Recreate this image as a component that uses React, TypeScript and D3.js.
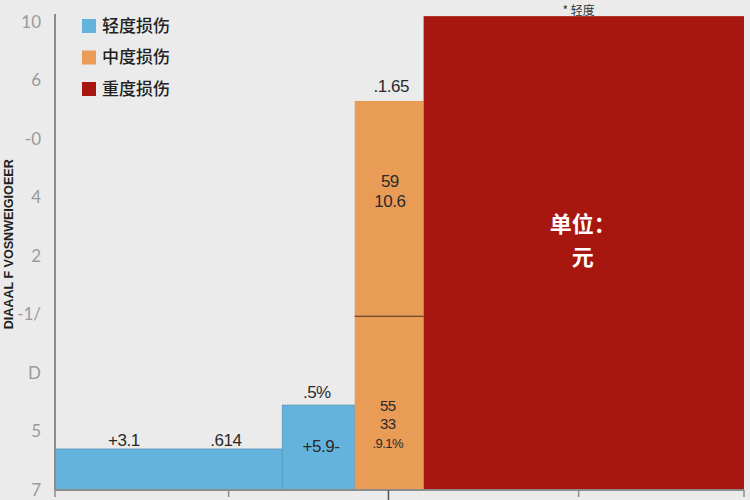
import React from 'react';
import * as d3 from 'd3';

// chart data
const legendNames = ['轻度损伤', '中度损伤', '重度损伤'];
const legendColors = ['#63b3dc', '#e89c55', '#a71710'];

const barSeries = [0, 0, 1, 2]; // index into legend
const barWidths = [33, 10.5, 10, 46.5];
const barValues = [0.7, 1.45, 6.65, 8.1];
const orangeSplit = 2.97;

const yTickValues = [0, 1, 2, 3, 4, 5, 6, 7, 8];
const yTickLabels = ['7', '5', 'D', '-1/', '2', '4', '-0', '6', '10'];
const xTickValues = [0, 25.2, 48.4, 76, 100];

const yTitle = 'DIAAAL F VOSNWEIGIOEER';

// value labels
const labelText = ['+3.1', '.614', '.5%', '+5.9-', '.1.65', '59', '10.6'];
const labelX = [10, 24.8, 38, 38.6, 48.8, 48.6, 48.6];
const labelY = [0.75, 0.75, 1.57, 0.65, 6.8, 5.18, 4.84];
const smallText = ['55', '33', '.9.1%'];
const smallY = [1.35, 1.04, 0.72];
const smallX = 48.3;

const redTitle = ['单位：', '元'];
const redTitleY = [4.41, 3.85];
const topText = '* 轻度';

const W = 750;
const H = 500;

const App: React.FC = () => {
  const x = d3.scaleLinear().domain([0, 100]).range([55, 744]);
  const y = d3.scaleLinear().domain([0, 8]).range([490, 22]);

  const starts = d3.cumsum([0, ...barWidths]);
  const numFont = '"Liberation Sans", Arial, sans-serif';
  const cjkFont = "'Noto Sans CJK SC', sans-serif";

  React.useEffect(() => {
    document.body.style.margin = '0';
  }, []);

  return (
    <svg width={W} height={H} style={{ display: 'block', background: '#ebebeb' }}>
      {/* bars */}
      {barValues.map((v, i) => {
        const x0 = x(starts[i]);
        const x1 = x(starts[i] + barWidths[i]);
        const s = barSeries[i];
        return (
          <rect
            key={i}
            x={x0}
            y={y(v)}
            width={x1 - x0}
            height={y(0) - y(v)}
            fill={legendColors[s]}
            stroke={s === 0 ? '#5c9ec4' : 'none'}
            strokeWidth={s === 0 ? 1 : 0}
          />
        );
      })}
      {/* orange split line */}
      <line
        x1={x(starts[2])}
        x2={x(starts[3])}
        y1={y(orangeSplit)}
        y2={y(orangeSplit)}
        stroke="#4a3020"
        strokeWidth={1}
      />

      {/* y axis */}
      <line x1={x(0)} x2={x(0)} y1={14} y2={y(0)} stroke="#8c8c8c" strokeWidth={2} />
      {yTickValues.map((v, i) => (
        <text
          key={v}
          x={41}
          y={y(v)}
          dy="0.35em"
          textAnchor="end"
          fontFamily="Lato, 'Open Sans', sans-serif"
          fontSize={17}
          fill="#9a9a9a"
        >
          {yTickLabels[i]}
        </text>
      ))}
      <text
        transform={`translate(13, ${y(4.2)}) rotate(-90)`}
        textAnchor="middle"
        fontFamily={numFont}
        fontSize={13}
        fontWeight={600}
        fill="#222"
        textLength={170}
        lengthAdjust="spacingAndGlyphs"
      >
        {yTitle}
      </text>

      {/* x axis */}
      <line x1={x(0)} x2={x(100)} y1={y(0)} y2={y(0)} stroke="#8c8c8c" strokeWidth={2} />
      {xTickValues.map((v, i) => (
        <line
          key={v}
          x1={x(v)}
          x2={x(v)}
          y1={y(0)}
          y2={i === 2 ? H : y(0) + 7}
          stroke={i === 2 ? '#555' : '#8c8c8c'}
          strokeWidth={1.5}
        />
      ))}

      {/* value labels */}
      {labelText.map((t, i) => (
        <text
          key={i}
          x={x(labelX[i])}
          y={y(labelY[i])}
          textAnchor="middle"
          fontFamily={numFont}
          fontSize={17}
          fill="#2a2a2a"
          letterSpacing={-0.5}
        >
          {t}
        </text>
      ))}
      {smallText.map((t, i) => (
        <text
          key={t}
          x={x(smallX)}
          y={y(smallY[i])}
          textAnchor="middle"
          fontFamily={numFont}
          fontSize={i === 2 ? 13 : 15}
          fill="#2a2a2a"
          letterSpacing={-0.5}
        >
          {t}
        </text>
      ))}

      {/* red bar title */}
      {redTitle.map((t, i) => (
        <text
          key={t}
          x={x(76) + 4}
          y={y(redTitleY[i])}
          textAnchor="middle"
          fontFamily={cjkFont}
          fontWeight="bold"
          fontSize={22}
          fill="#ffffff"
        >
          {t}
        </text>
      ))}
      <text x={x(76)} y={15} textAnchor="middle" fontFamily={cjkFont} fontSize={12} fill="#333">
        {topText}
      </text>

      {/* legend */}
      {legendNames.map((n, i) => (
        <g key={n} transform={`translate(82, ${26 + i * 31.5})`}>
          <rect x={0} y={-7} width={14} height={14} fill={legendColors[i]} />
          <text
            x={20}
            y={0}
            dy="0.35em"
            fontFamily={cjkFont}
            fontSize={17}
            fontWeight={500}
            fill="#222"
          >
            {n}
          </text>
        </g>
      ))}
    </svg>
  );
};

export default App;
